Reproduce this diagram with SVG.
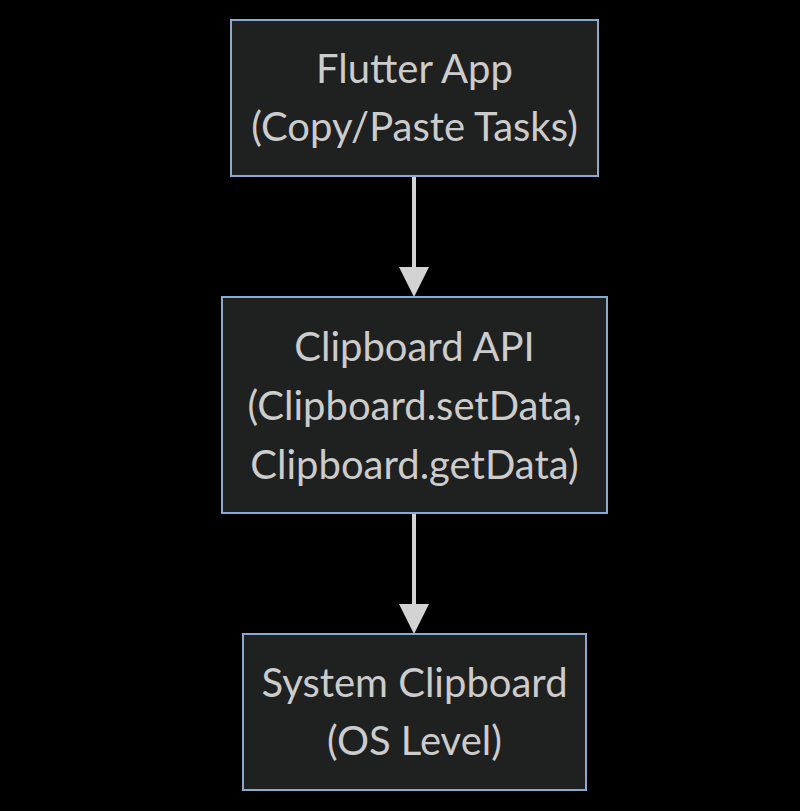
<svg xmlns="http://www.w3.org/2000/svg" width="800" height="811" viewBox="0 0 800 811">
<style>
.box{fill:#1f2020;stroke:#8aa9cf;stroke-width:2}
.t{font-family:Lato,"Liberation Sans",sans-serif;font-size:40px;fill:#cccccc;text-anchor:middle}
.edge{stroke:#d3d3d3;stroke-width:4;fill:none}
.head{fill:#d3d3d3}
</style>
<rect width="800" height="811" fill="#000000"/>
<g id="connectors">
<line class="edge" x1="414" y1="176" x2="414" y2="270"/>
<polygon class="head" points="399,267 429,267 414,297"/>
<line class="edge" x1="414" y1="513" x2="414" y2="607"/>
<polygon class="head" points="399,604 429,604 414,634"/>
</g>
<g id="flutter-app">
<rect class="box" x="231" y="20" width="367" height="156"/>
<text class="t" x="414.5" y="83">Flutter App</text>
<text class="t" x="414.5" y="141">(Copy/Paste Tasks)</text>
</g>
<g id="clipboard-api">
<rect class="box" x="222" y="297" width="385" height="216"/>
<text class="t" x="414.5" y="361">Clipboard API</text>
<text class="t" x="414.5" y="420">(Clipboard.setData,</text>
<text class="t" x="414.5" y="479">Clipboard.getData)</text>
</g>
<g id="system-clipboard">
<rect class="box" x="243" y="634" width="343" height="156"/>
<text class="t" x="414.5" y="697">System Clipboard</text>
<text class="t" x="414.5" y="755">(OS Level)</text>
</g>
</svg>
